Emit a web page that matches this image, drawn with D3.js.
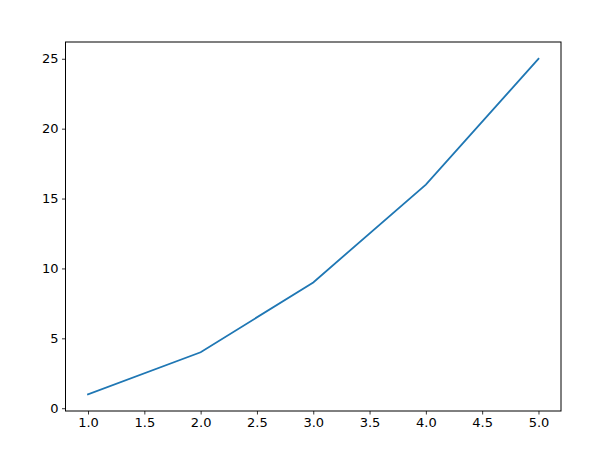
<!DOCTYPE html>
<html>
<head>
<meta charset="utf-8">
<script src="https://cdn.jsdelivr.net/npm/d3@7"></script>
<style>
  body { margin: 0; background: #fff; }
  text { font-family: "DejaVu Sans", sans-serif; font-size: 13px; fill: #000; }
</style>
</head>
<body>
<div id="chart"></div>
<script>
// data
const xValues = [1, 2, 3, 4, 5];
const yValues = [1, 4, 9, 16, 25];
const xTicks = [1.0, 1.5, 2.0, 2.5, 3.0, 3.5, 4.0, 4.5, 5.0];
const yTicks = [0, 5, 10, 15, 20, 25];

const W = 616, H = 463;
const margin = {top: 42, right: 55, bottom: 52, left: 65.5};

const svg = d3.select("#chart")
              .append("svg")
              .attr("width", W)
              .attr("height", H);

// matplotlib style 5% padding
const xScale = d3.scaleLinear()
                 .domain([0.8, 5.2])
                 .range([margin.left, W - margin.right]);
const yScale = d3.scaleLinear()
                 .domain([-0.2, 26.2])
                 .range([H - margin.bottom, margin.top]);

const xAxis = d3.axisBottom(xScale)
                .tickValues(xTicks)
                .tickFormat(d3.format(".1f"))
                .tickSize(3.5)
                .tickPadding(3.5);
const yAxis = d3.axisLeft(yScale)
                .tickValues(yTicks)
                .tickFormat(d3.format("d"))
                .tickSize(3.5)
                .tickPadding(3.5);

const gx = svg.append("g")
              .attr("transform", "translate(0," + (H - margin.bottom) + ")")
              .call(xAxis);
const gy = svg.append("g")
              .attr("transform", "translate(" + margin.left + ",0)")
              .call(yAxis);

[gx, gy].forEach(g => {
    g.select(".domain").remove();
    g.selectAll(".tick line").attr("stroke", "#000").attr("stroke-width", 0.8);
    g.selectAll(".tick text")
     .attr("font-family", "DejaVu Sans")
     .attr("font-size", 13)
     .attr("fill", "#000");
});

const line = d3.line()
               .x((d, i) => xScale(xValues[i]))
               .y(d => yScale(d));

svg.append("path")
   .datum(yValues)
   .attr("fill", "none")
   .attr("stroke", "#1f77b4")
   .attr("stroke-width", 1.8)
   .attr("stroke-linecap", "square")
   .attr("d", line);

// axes frame
svg.append("rect")
   .attr("x", margin.left)
   .attr("y", margin.top)
   .attr("width", W - margin.right - margin.left)
   .attr("height", H - margin.bottom - margin.top)
   .attr("fill", "none")
   .attr("stroke", "#000")
   .attr("stroke-width", 1);
</script>
</body>
</html>
